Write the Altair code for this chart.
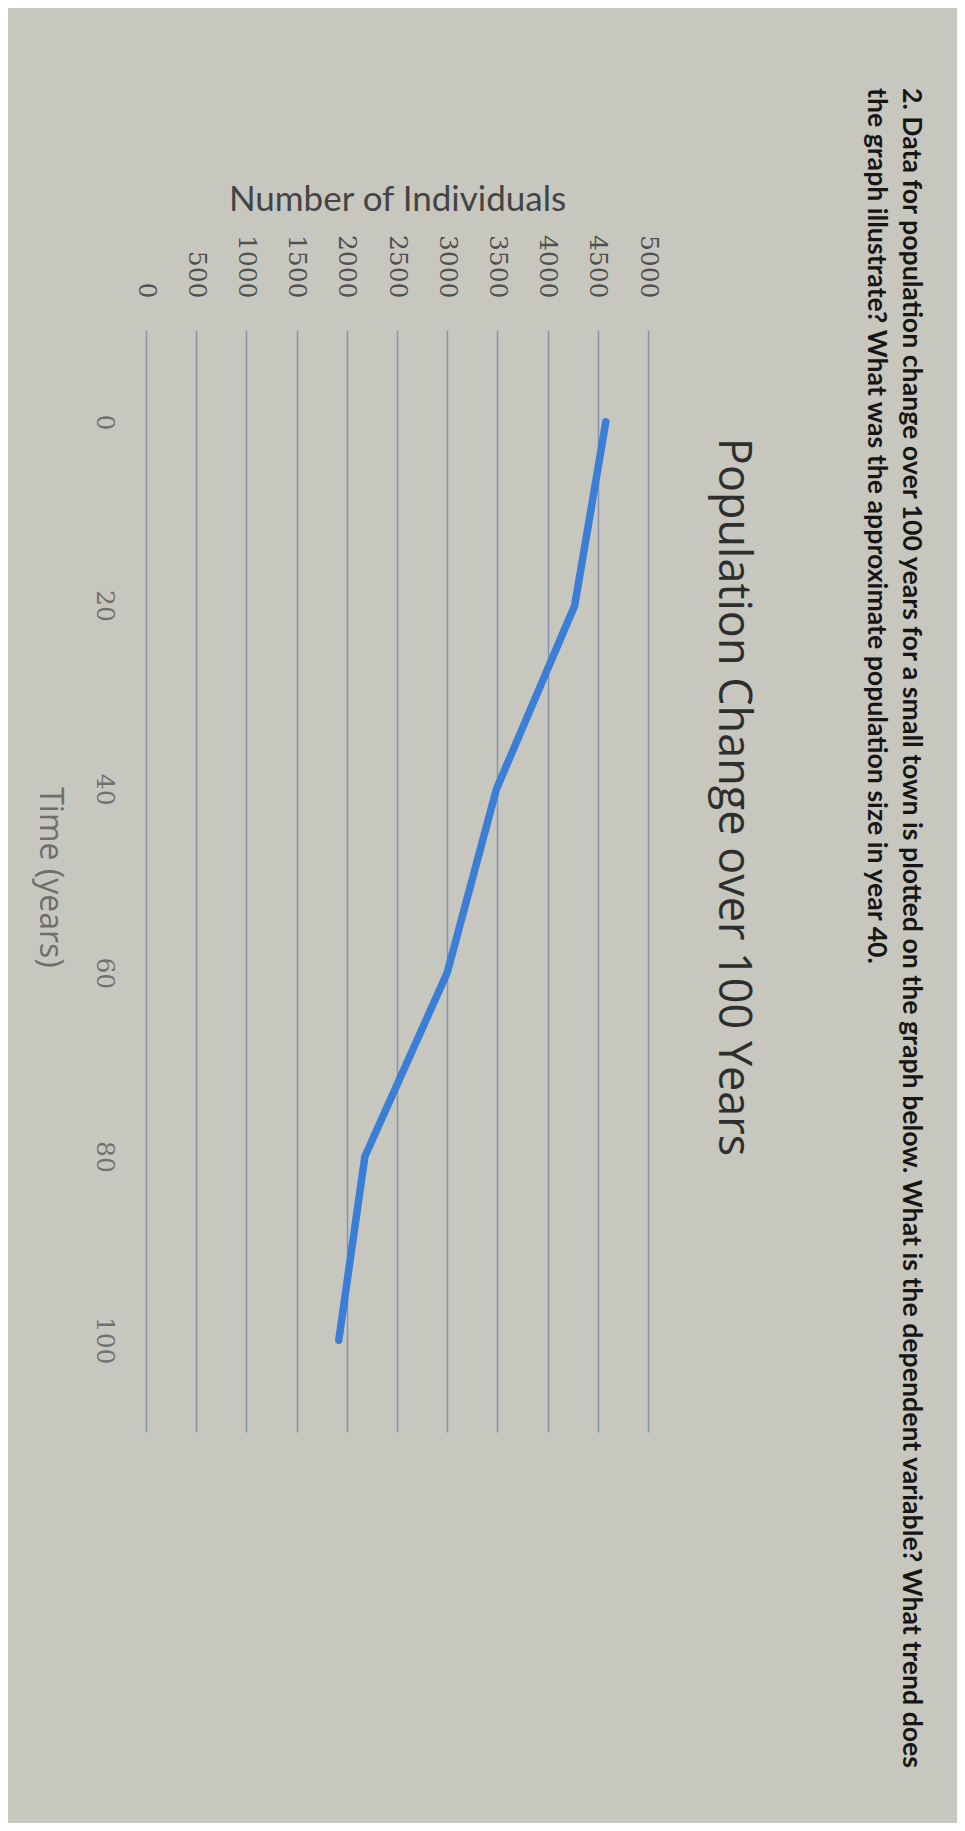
import altair as alt
import pandas as pd

# ---- data ----
years = [0, 20, 40, 60, 80, 100]
population = [4580, 4270, 3490, 3000, 2180, 1920]
pop_ticks = [0, 500, 1000, 1500, 2000, 2500, 3000, 3500, 4000, 4500, 5000]
year_ticks = [0, 20, 40, 60, 80, 100]
question_lines = [
    "2. Data for population change over 100 years for a small town is plotted on the graph below. What is the dependent variable? What trend does",
    "the graph illustrate? What was the approximate population size in year 40.",
]
chart_title = ["Population Change over 100 Years"]

df = pd.DataFrame({"year": years, "pop": population})

BG = "#c8c7bf"
PLOT_W = 502
PLOT_H = 1102

x_enc = alt.X(
    "pop:Q",
    scale=alt.Scale(domain=[0, 5000], nice=False, zero=True),
    axis=alt.Axis(
        orient="top",
        values=pop_ticks,
        format="d",
        title="Number of Individuals",
        titleFont="Lato",
        titleFontSize=35,
        titleFontWeight="normal",
        titleColor="#444444",
        titleAngle=0,
        titleBaseline="middle",
        titleAlign="center",
        titleY=-131,
        labelAngle=90,
        labelAlign="right",
        labelBaseline="middle",
        labelFont="DejaVu Serif",
        labelFontSize=25,
        labelColor="#505050",
        labelPadding=32,
        ticks=False,
        domain=False,
        grid=True,
        gridColor="#8592b0",
        gridWidth=1.5,
        gridOpacity=1,
    ),
)

y_enc = alt.Y(
    "year:Q",
    scale=alt.Scale(domain=[-10, 110], nice=False, zero=False, reverse=True),
    axis=alt.Axis(
        orient="left",
        values=year_ticks,
        format="d",
        title="Time (years)",
        titleFont="Open Sans",
        titleFontSize=32,
        titleFontWeight="normal",
        titleColor="#6e6e6e",
        titleAngle=90,
        titleBaseline="top",
        titleAlign="center",
        titleX=-82,
        titleY=547,
        labelAngle=90,
        labelAlign="center",
        labelBaseline="top",
        labelFont="DejaVu Serif",
        labelFontSize=25,
        labelColor="#707070",
        labelPadding=30,
        ticks=False,
        domain=False,
        grid=False,
    ),
)

line = alt.Chart(df).mark_line(
    color="#3a7ed6", strokeWidth=7.5, strokeCap="round", strokeJoin="round"
).encode(x=x_enc, y=y_enc)

q_df = pd.DataFrame({"text": question_lines})
q1 = alt.Chart(q_df.iloc[[0]]).mark_text(
    angle=90, align="left", baseline="middle", font="Lato", fontSize=26.7,
    fontWeight="bold", color="#161616"
).encode(x=alt.value(765), y=alt.value(-242), text="text:N")
q2 = alt.Chart(q_df.iloc[[1]]).mark_text(
    angle=90, align="left", baseline="middle", font="Lato", fontSize=26.7,
    fontWeight="bold", color="#161616"
).encode(x=alt.value(730), y=alt.value(-242), text="text:N")

t_df = pd.DataFrame({"text": chart_title})
title_mark = alt.Chart(t_df).mark_text(
    angle=90, align="center", baseline="middle", font="Open Sans", fontSize=45,
    color="#2e2e2e"
).encode(x=alt.value(587), y=alt.value(467), text="text:N")

chart = alt.layer(line, title_mark, q1, q2).properties(
    width=PLOT_W,
    height=PLOT_H,
    background=BG,
    padding={"left": 138, "top": 322, "right": 309, "bottom": 391},
    autosize=alt.AutoSizeParams(type="none"),
).configure_view(stroke=None)

chart.save("out.html", embed_options={"renderer": "svg", "actions": False})
